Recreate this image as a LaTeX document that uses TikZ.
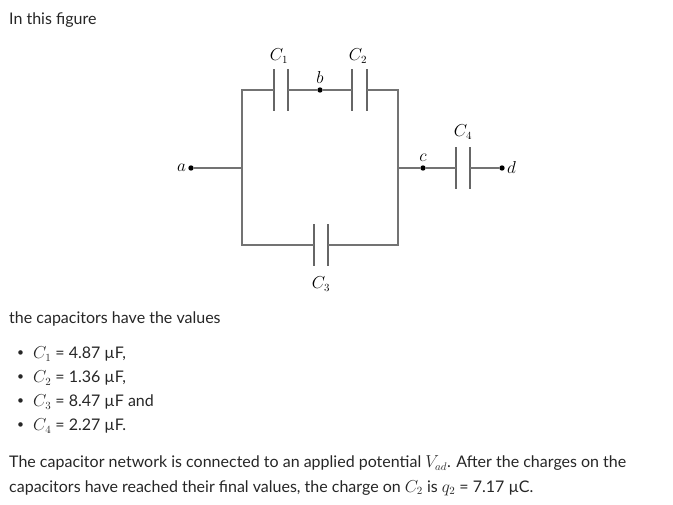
\documentclass[tikz,border=0pt]{standalone}
\usepackage{fontspec}
\setmainfont{Lato}
\usetikzlibrary{positioning}
\tikzset{
  wire/.style={draw=black!55,line width=1.1pt},
  plate/.style={draw=black!60,line width=1.6pt},
  term/.style={fill,circle,inner sep=1.9pt},
  lbl/.style={inner sep=1pt,font=\fontsize{16}{16}\selectfont},
  txt/.style={anchor=west,inner sep=0pt,font=\fontsize{16}{19}\selectfont,text=black!85}
}
\begin{document}
\begin{tikzpicture}[x=1pt,y=-1pt]
	\useasboundingbox (0,0) rectangle (673,505);
	% terminals
	\node [term] (a) at (191,168) {};
	\node [term] (b) at (320,90) {};
	\node [term] (c) at (423,168) {};
	\node [term] (d) at (502,168) {};
	% corners
	\coordinate (tl) at (242,90);
	\coordinate (tr) at (398,90);
	\coordinate (ml) at (242,168);
	\coordinate (mr) at (398,168);
	\coordinate (bl) at (242,245);
	\coordinate (br) at (398,245);
	% plates
	\coordinate (c1l) at (274,90); \coordinate (c1r) at (288,90);
	\coordinate (c2l) at (352,90); \coordinate (c2r) at (367,90);
	\coordinate (c3l) at (314,245); \coordinate (c3r) at (328,245);
	\coordinate (c4l) at (456,168); \coordinate (c4r) at (470,168);
	\foreach \p in {c1l,c1r,c2l,c2r,c3l,c3r,c4l,c4r}
		\draw [plate] ([yshift=-21]\p) -- ([yshift=21]\p);
	% wires
	\draw [wire] (a) -- (ml);
	\draw [wire] (c1l) -- (tl) -- (bl) -- (c3l);
	\draw [wire] (c1r) -- (b) -- (c2l);
	\draw [wire] (c2r) -- (tr) -- (br) -- (c3r);
	\draw [wire] (mr) -- (c) -- (c4l);
	\draw [wire] (c4r) -- (d);
	% labels
	\node [lbl,left=1pt of a] {$a$};
	\node [lbl,above=2pt of b] {$b$};
	\node [lbl,above=2pt of c] {$c$};
	\node [lbl,right=1pt of d] {$d$};
	\node [lbl] at (279,56) {$C_1$};
	\node [lbl] at (358,56) {$C_2$};
	\node [lbl] at (321,284) {$C_3$};
	\node [lbl] at (463,132) {$C_4$};
	% text
	\node [txt] (t0) at (9,20) {In this figure};
	\node [txt] (t1) at (9,319) {the capacitors have the values};
	\foreach \i/\s in {0/{$C_1$ = 4.87 µF,},1/{$C_2$ = 1.36 µF,},2/{$C_3$ = 8.47 µF and},3/{$C_4$ = 2.27 µF.}}{
		\node [txt,font=\fontsize{12}{12}\selectfont] at (17,354+24*\i) {•};
		\node [txt] at (33,354+24*\i) {\s};
	}
	\node [txt] (t2) at (9,463) {The capacitor network is connected to an applied potential $V_{ad}$. After the charges on the};
	\node [txt] (t3) at (9,488) {capacitors have reached their final values, the charge on $C_2$ is $q_2$ = 7.17 µC.};
\end{tikzpicture}
\end{document}
